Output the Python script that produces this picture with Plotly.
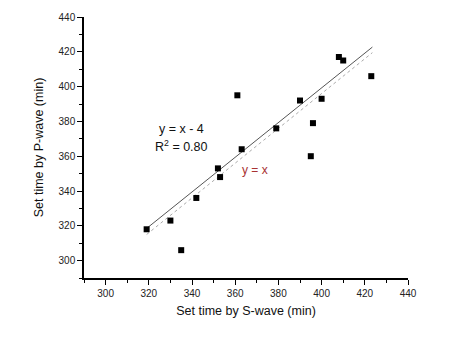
import plotly.graph_objects as go

s_wave = [319, 330, 335, 342, 352, 353, 361, 363, 379, 390, 395, 396, 400, 408, 410, 423]
p_wave = [318, 323, 306, 336, 353, 348, 395, 364, 376, 392, 360, 379, 393, 417, 415, 406]

fit_x = [319, 423.5]
fit_y = [318.5, 422.7]
ident_x = [319, 423.5]
ident_y = [315, 419.5]

tick_vals = [300, 320, 340, 360, 380, 400, 420, 440]

FONT = "Liberation Sans, Arial, sans-serif"

fig = go.Figure()
fig.add_trace(go.Scatter(x=fit_x, y=fit_y, mode="lines",
                         line=dict(color="#555555", width=1), showlegend=False))
fig.add_trace(go.Scatter(x=ident_x, y=ident_y, mode="lines",
                         line=dict(color="#aaaaaa", width=1, dash="dot"), showlegend=False))
fig.add_trace(go.Scatter(x=s_wave, y=p_wave, mode="markers",
                         marker=dict(symbol="square", size=6, color="black"),
                         showlegend=False))

axis_common = dict(
    showline=True, linecolor="black", linewidth=1.5,
    ticks="outside", ticklen=5, tickwidth=1.2, tickcolor="black",
    showgrid=False, zeroline=False, mirror=False,
    tickvals=tick_vals,
    tickfont=dict(family=FONT, size=10, color="#222222"),
    minor=dict(ticks="outside", ticklen=3, tickwidth=1, tickcolor="black", dtick=10, showgrid=False),
)

fig.update_layout(
    width=474, height=339,
    margin=dict(l=84, r=66, t=17, b=61),
    paper_bgcolor="white", plot_bgcolor="white",
    xaxis=dict(range=[290, 440], **axis_common,
               title=dict(text="Set time by S-wave (min)",
                          font=dict(family=FONT, size=12.5, color="#111111"), standoff=8)),
    yaxis=dict(range=[290, 440], **axis_common,
               title=dict(text="Set time by P-wave (min)",
                          font=dict(family=FONT, size=12.5, color="#111111"), standoff=12)),
    annotations=[
        dict(x=335.2, y=375.7, xref="x", yref="y", text="y = x - 4", showarrow=False,
             font=dict(family=FONT, size=12.5, color="#111111")),
        dict(x=335.2, y=365.7, xref="x", yref="y", text="R<sup>2</sup> = 0.80", showarrow=False,
             font=dict(family=FONT, size=12.5, color="#111111")),
        dict(x=369.1, y=351.9, xref="x", yref="y", text="y = x", showarrow=False,
             font=dict(family=FONT, size=12, color="#a83232")),
    ],
)

fig.write_html("out.html")
